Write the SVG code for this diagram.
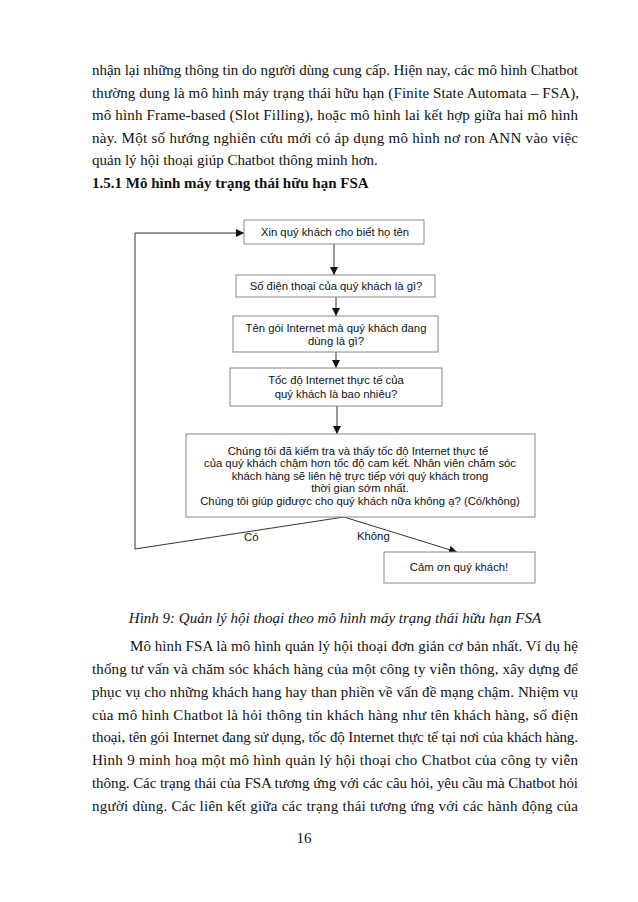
<svg xmlns="http://www.w3.org/2000/svg" width="638" height="902" viewBox="0 0 638 902">
<defs>
<marker id="ah" viewBox="0 0 10 10" refX="10" refY="5" markerWidth="8" markerHeight="8" markerUnits="userSpaceOnUse" orient="auto">
<path d="M0,0 L10,5 L0,10 z" fill="#111"/>
</marker>
<style>
.body{font-family:"Liberation Serif","Times New Roman",serif;font-size:15px;fill:#111}
.bold{font-weight:bold}
.it{font-style:italic}
.node rect{fill:#fff;stroke:#888;stroke-width:1}
.node text{font-family:"Liberation Sans",Arial,sans-serif;font-size:11.3px;fill:#111;text-anchor:middle}
.conn{fill:none;stroke:#333;stroke-width:1}
.lbl{font-family:"Liberation Sans",Arial,sans-serif;font-size:11.3px;fill:#111}
</style>
</defs>
<rect width="638" height="902" fill="#fff"/>
<g id="text-top" class="body">
<text x="92" y="75" textLength="486" lengthAdjust="spacing">nhận lại những thông tin do người dùng cung cấp. Hiện nay, các mô hình Chatbot</text>
<text x="92" y="98" textLength="487" lengthAdjust="spacing">thường dung là mô hình máy trạng thái hữu hạn (Finite State Automata – FSA),</text>
<text x="92" y="120" textLength="486" lengthAdjust="spacing">mô hình Frame-based (Slot Filling), hoặc mô hình lai kết hợp giữa hai mô hình</text>
<text x="92" y="143" textLength="486" lengthAdjust="spacing">này. Một số hướng nghiên cứu mới có áp dụng mô hình nơ ron ANN vào việc</text>
<text x="92" y="165">quản lý hội thoại giúp Chatbot thông minh hơn.</text>
<text x="92" y="188" class="bold">1.5.1 Mô hình máy trạng thái hữu hạn FSA</text>
</g>
<g id="connectors">
<line class="conn" x1="334" y1="244" x2="334" y2="275" marker-end="url(#ah)"/>
<line class="conn" x1="336" y1="297" x2="336" y2="316" marker-end="url(#ah)"/>
<line class="conn" x1="336" y1="352" x2="336" y2="368" marker-end="url(#ah)"/>
<line class="conn" x1="337" y1="406" x2="337" y2="434" marker-end="url(#ah)"/>
<polyline class="conn" points="344,517 135,549 135,233 244,233" marker-end="url(#ah)"/>
<line class="conn" x1="344" y1="517" x2="457" y2="552" marker-end="url(#ah)"/>
<text class="lbl" x="244" y="541">Có</text>
<text class="lbl" x="357" y="540">Không</text>
</g>
<g id="n1" class="node">
<rect x="244" y="220" width="180" height="24"/>
<text x="335" y="236">Xin quý khách cho biết họ tên</text>
</g>
<g id="n2" class="node">
<rect x="236" y="275" width="199" height="22"/>
<text x="336" y="290">Số điện thoại của quý khách là gì?</text>
</g>
<g id="n3" class="node">
<rect x="233" y="316" width="205" height="36"/>
<text x="336" y="332">Tên gói Internet mà quý khách đang</text>
<text x="336" y="345">dùng là gì?</text>
</g>
<g id="n4" class="node">
<rect x="230" y="368" width="212" height="38"/>
<text x="336" y="384">Tốc độ Internet thực tế của</text>
<text x="336" y="398">quý khách là bao nhiêu?</text>
</g>
<g id="n5" class="node">
<rect x="186" y="434" width="349" height="83"/>
<text x="358" y="455">Chúng tôi đã kiểm tra và thấy tốc độ Internet thực tế</text>
<text x="360" y="467">của quý khách chậm hơn tốc độ cam kết. Nhân viên chăm sóc</text>
<text x="360" y="480">khách hàng sẽ liên hệ trực tiếp với quý khách trong</text>
<text x="360" y="492">thời gian sớm nhất.</text>
<text x="360" y="505">Chúng tôi giúp giđược cho quý khách nữa không ạ? (Có/không)</text>
</g>
<g id="n6" class="node">
<rect x="384" y="552" width="151" height="31"/>
<text x="459" y="571">Cảm ơn quý khách!</text>
</g>
<g id="text-bottom" class="body">
<text x="335" y="623" class="it" text-anchor="middle">Hình 9: Quản lý hội thoại theo mô hình máy trạng thái hữu hạn FSA</text>
<text x="130" y="651" textLength="448" lengthAdjust="spacing">Mô hình FSA là mô hình quản lý hội thoại đơn giản cơ bản nhất. Ví dụ hệ</text>
<text x="92" y="674" textLength="486" lengthAdjust="spacing">thống tư vấn và chăm sóc khách hàng của một công ty viễn thông, xây dựng để</text>
<text x="92" y="697" textLength="486" lengthAdjust="spacing">phục vụ cho những khách hang hay than phiền về vấn đề mạng chậm. Nhiệm vụ</text>
<text x="92" y="720" textLength="486" lengthAdjust="spacing">của mô hình Chatbot là hỏi thông tin khách hàng như tên khách hàng, số điện</text>
<text x="92" y="742" textLength="486" lengthAdjust="spacing">thoại, tên gói Internet đang sử dụng, tốc độ Internet thực tế tại nơi của khách hàng.</text>
<text x="92" y="765" textLength="486" lengthAdjust="spacing">Hình 9 minh hoạ một mô hình quản lý hội thoại cho Chatbot của công ty viễn</text>
<text x="92" y="788" textLength="486" lengthAdjust="spacing">thông. Các trạng thái của FSA tương ứng với các câu hỏi, yêu cầu mà Chatbot hỏi</text>
<text x="92" y="811" textLength="486" lengthAdjust="spacing">người dùng. Các liên kết giữa các trạng thái tương ứng với các hành động của</text>
<text x="304" y="843" text-anchor="middle">16</text>
</g>
</svg>
